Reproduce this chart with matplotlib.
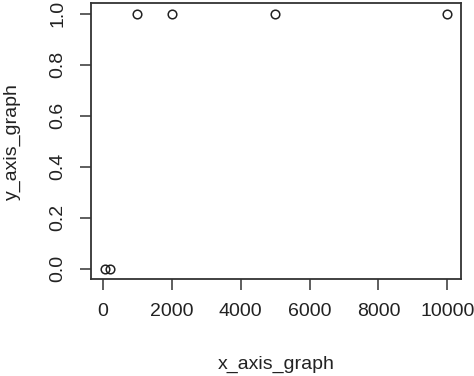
import matplotlib
matplotlib.use("Agg")
import matplotlib.pyplot as plt

x_values = [50, 200, 1000, 2000, 5000, 10000]
y_values = [0, 0, 1, 1, 1, 1]
x_ticks = [0, 2000, 4000, 6000, 8000, 10000]
y_ticks = [0.0, 0.2, 0.4, 0.6, 0.8, 1.0]

plt.rcParams['font.family'] = ['Liberation Sans', 'DejaVu Sans']

fig = plt.figure(figsize=(4.74, 3.76), dpi=100)
ax = fig.add_axes([0.192, 0.258, 0.7806, 0.7327])

ax.plot(x_values, y_values, linestyle='none', marker='o', markersize=6.2,
        markerfacecolor='none', markeredgecolor='#222222', markeredgewidth=1.1)

xr = max(x_values) - min(x_values)
ax.set_xlim(min(x_values) - 0.04 * xr, max(x_values) + 0.04 * xr)
ax.set_ylim(-0.04, 1.04)

ax.set_xticks(x_ticks)
ax.set_xticklabels([str(t) for t in x_ticks])
ax.set_yticks(y_ticks)
ax.set_yticklabels([f"{t:.1f}" for t in y_ticks], rotation=90, va='center')

for s in ax.spines.values():
    s.set_linewidth(1.3)
    s.set_color('#333333')

ax.tick_params(axis='both', direction='out', length=8, width=1.1, color='#333333',
               labelsize=14, labelcolor='#222222')
ax.tick_params(axis='x', pad=9)
ax.tick_params(axis='y', pad=10)

ax.set_xlabel('x_axis_graph', fontsize=14, color='#222222', labelpad=26)
ax.set_ylabel('y_axis_graph', fontsize=14, color='#222222', labelpad=20)

fig.savefig('out.png', dpi=100)
